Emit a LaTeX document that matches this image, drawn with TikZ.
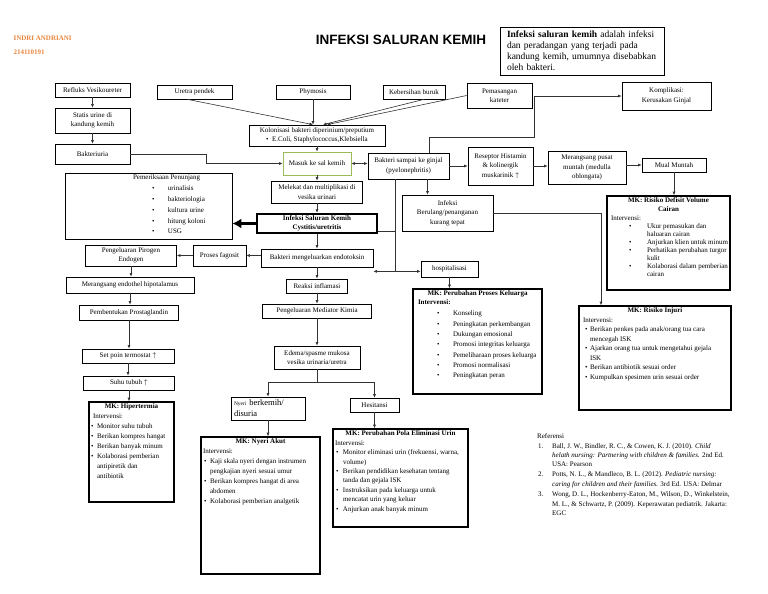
\documentclass[tikz,border=0pt]{standalone}
\usepackage{fontspec}
\setmainfont{Liberation Serif}
\newfontfamily\judulfont{Liberation Sans}
\usepackage{tikz}
\usetikzlibrary{arrows.meta,calc,positioning}
\definecolor{o}{HTML}{E8863C}
\definecolor{g}{HTML}{9BBB59}
\newcommand{\butir}[3]{\par\hangindent=#2\hangafter=1\noindent\makebox[#2][l]{\hspace{#1}\textbullet}#3}

\begin{document}
\begin{tikzpicture}[x=1pt,y=-1pt,>={Latex[length=3.5pt,width=3pt]},
  font=\fontsize{7}{9.5}\selectfont,
  box/.style={draw,line width=.7pt,align=center,inner sep=1pt},
  mk/.style={draw,line width=1.6pt,inner sep=2pt},
  arr/.style={->,line width=.6pt,draw=black!80},
  garis/.style={line width=.6pt,draw=black!80}]
  \useasboundingbox (0,0) rectangle (768,594);
  % judul
  \node[font=\fontsize{7}{9}\selectfont\bfseries,text=o,anchor=base west] (nama) at (10,41) {INDRI ANDRIANI};
  \node[font=\fontsize{7}{9}\selectfont\bfseries,text=o,anchor=base west] (nim) at (10,55) {214110191};
  \node[font=\judulfont\fontsize{13.5}{15}\selectfont\bfseries,anchor=base] (judul) at (401,45) {INFEKSI SALURAN KEMIH};
  \node[box,font=\fontsize{9.5}{11}\selectfont,align=left,text width=150pt,minimum width=164pt,minimum height=48pt,inner xsep=6pt] (definisi) at (582,51)
    {\textbf{Infeksi saluran kemih} adalah infeksi\\dan peradangan yang terjadi pada\\kandung kemih, umumnya disebabkan\\oleh bakteri.};
  % penyebab
  \node[box,minimum width=75pt,minimum height=14pt] (refluks) at (92.5,90) {Refluks Vesikoureter};
  \node[box,minimum width=75pt,minimum height=25pt] (statis) at (92.5,120.5) {Statis urine di\\kandung kemih};
  \node[box,minimum width=75pt,minimum height=20pt] (bakteriuria) at (92.5,154) {Bakteriuria};
  \node[box,minimum width=75pt,minimum height=14pt] (uretra) at (194.5,92) {Uretra pendek};
  \node[box,minimum width=74pt,minimum height=14pt] (phymosis) at (313,92) {Phymosis};
  \node[box,minimum width=62pt,minimum height=14pt] (kebersihan) at (414,92) {Kebersihan buruk};
  \node[box,minimum width=65pt,minimum height=25pt] (kateter) at (499.5,95.5) {Pemasangan\\kateter};
  \node[box,minimum width=136pt,minimum height=21pt] (kolonisasi) at (317,135.5) {Kolonisasi bakteri diperinium/preputium\\\textbullet\enspace E.Coli, Staphylococcus,Klebsiella};
  % jalur tengah
  \node[box,draw=g,minimum width=68pt,minimum height=23pt] (masuk) at (317,163.5) {Masuk ke sal kemih};
  \node[box,minimum width=91pt,minimum height=22pt] (melekat) at (317,192) {Melekat dan multiplikasi di\\vesika urinari};
  \node[box,line width=2.4pt,font=\fontsize{7}{9}\selectfont\bfseries,minimum width=120pt,minimum height=19pt] (isk) at (317,223.5) {Infeksi Saluran Kemih\\Cystitis/uretritis};
  \node[box,minimum width=112pt,minimum height=18pt] (endotoksin) at (317,258) {Bakteri mengeluarkan endotoksin};
  \node[box,minimum width=61pt,minimum height=14pt] (inflamasi) at (317,286) {Reaksi inflamasi};
  \node[box,minimum width=109pt,minimum height=14pt] (mediator) at (317,311) {Pengeluaran Mediator Kimia};
  \node[box,minimum width=86pt,minimum height=23pt] (edema) at (317,357.5) {Edema/spasme mukosa\\vesika urinaria/uretra};
  \node[box,align=left,font=\fontsize{8.5}{11}\selectfont,minimum width=74pt,minimum height=23pt,text width=68pt] (nyeri) at (268,408.5)
    {{\fontsize{5.5}{6}\selectfont Nyeri} berkemih/\\disuria};
  \node[box,minimum width=49pt,minimum height=14pt] (hesitansi) at (374.5,405) {Hesitansi};
  % ginjal
  \node[box,minimum width=81pt,minimum height=26pt] (ginjal) at (408.5,166) {Bakteri sampai ke ginjal\\(pyelonephritis)};
  \node[box,minimum width=65pt,minimum height=38pt] (reseptor) at (500.5,166) {Reseptor Histamin\\\& kolinergik\\muskarinik $\uparrow$};
  \node[box,minimum width=78pt,minimum height=33pt] (pusat) at (587,167.5) {Merangsang pusat\\muntah (medulla\\oblongata)};
  \node[box,minimum width=64pt,minimum height=14pt] (mual) at (674,165) {Mual Muntah};
  \node[box,minimum width=89pt,minimum height=28pt] (komplikasi) at (666.5,96) {Komplikasi:\\Kerusakan Ginjal};
  \node[box,minimum width=91pt,minimum height=36pt] (berulang) at (447.5,213) {Infeksi\\Berulang/penanganan\\kurang tepat};
  \node[box,minimum width=57pt,minimum height=16pt] (hospitalisasi) at (449.5,269) {hospitalisasi};
  % demam
  \node[box,minimum width=53pt,minimum height=21pt] (fagosit) at (219.5,255.5) {Proses fagosit};
  \node[box,minimum width=91pt,minimum height=21pt] (pirogen) at (131,255.5) {Pengeluaran Pirogen\\Endogen};
  \node[box,minimum width=128pt,minimum height=16pt] (endothel) at (130,285) {Merangsang endothel hipotalamus};
  \node[box,minimum width=99pt,minimum height=15pt] (prostaglandin) at (129,312.5) {Pembentukan Prostaglandin};
  \node[box,minimum width=92pt,minimum height=14pt] (setpoin) at (128,356) {Set poin termostat $\uparrow$};
  \node[box,minimum width=91pt,minimum height=14pt] (suhu) at (129,383) {Suhu tubuh $\uparrow$};
  \node[draw,line width=.7pt,inner sep=2pt,font=\fontsize{7}{10.8}\selectfont] (penunjang) at (148.5,206)
    {\parbox[t][62pt][t]{163pt}{\raggedright\noindent\makebox[163pt][l]{\hspace{66pt}Pemeriksaan Penunjang}\butir{85pt}{101pt}{urinalisis}\butir{85pt}{101pt}{bakteriologia}\butir{85pt}{101pt}{kultura urine}\butir{85pt}{101pt}{hitung koloni}\butir{85pt}{101pt}{USG}}};
  % masalah keperawatan
  \node[mk,font=\fontsize{7}{8}\selectfont] (defisit) at (668.5,243)
    {\parbox[t][90pt][t]{119pt}{\centering\textbf{MK: Risiko Defisit Volume\\[1pt]Cairan}\par\vspace{1pt}\raggedright\hspace*{2pt}Intervensi:\butir{20pt}{38pt}{Ukur pemasukan dan\newline haluaran cairan}\butir{20pt}{38pt}{Anjurkan klien untuk minum}\butir{20pt}{38pt}{Perhatikan perubahan turgor\newline kulit}\butir{20pt}{38pt}{Kolaborasi dalam pemberian\newline cairan}}};
  \node[mk,font=\fontsize{7}{10.3}\selectfont] (keluarga) at (477.5,341.5)
    {\parbox[t][101pt][t]{125pt}{\centering\textbf{MK: Perubahan Proses Keluarga}\par\vspace{-2pt}\raggedright\hspace*{3pt}\textbf{Intervensi:}\par\vspace{1.5pt}\butir{22pt}{38pt}{Konseling}\butir{22pt}{38pt}{Peningkatan perkembangan}\butir{22pt}{38pt}{Dukungan emosional}\butir{22pt}{38pt}{Promosi integritas keluarga}\butir{22pt}{38pt}{Pemeliharaan proses keluarga}\butir{22pt}{38pt}{Promosi normalisasi}\butir{22pt}{38pt}{Peningkatan peran}}};
  \node[mk,font=\fontsize{7}{9.5}\selectfont] (injuri) at (655,358)
    {\parbox[t][100pt][t]{148pt}{\centering\textbf{MK: Risiko Injuri}\par\raggedright\hspace*{2pt}Intervensi:\butir{4pt}{9pt}{Berikan penkes pada anak/orang tua cara\newline mencegah ISK}\butir{4pt}{9pt}{Ajarkan orang tua untuk mengetahui gejala\newline ISK}\butir{4pt}{9pt}{Berikan antibiotik sesuai order}\butir{4pt}{9pt}{Kumpulkan spesimen urin sesuai order}}};
  \node[mk,font=\fontsize{7}{10}\selectfont] (hipertermia) at (131.5,452)
    {\parbox[t][96pt][t]{81pt}{\centering\textbf{MK: Hipertermia}\par\raggedright\hspace*{2pt}Intervensi:\butir{0pt}{6pt}{Monitor suhu tubuh}\butir{0pt}{6pt}{Berikan kompres hangat}\butir{0pt}{6pt}{Berikan banyak minum}\butir{0pt}{6pt}{Kolaborasi pemberian\newline antipiretik dan\newline antibiotik}}};
  \node[mk,font=\fontsize{7}{10}\selectfont] (nyeriakut) at (260.5,505.5)
    {\parbox[t][133pt][t]{115pt}{\centering\textbf{MK: Nyeri Akut}\par\raggedright Intervensi:\butir{1pt}{7pt}{Kaji skala nyeri dengan instrumen\newline pengkajian nyeri sesuai umur}\butir{1pt}{7pt}{Berikan kompres hangat di area\newline abdomen}\butir{1pt}{7pt}{Kolaborasi pemberian analgetik}}};
  \node[mk,font=\fontsize{7}{9.4}\selectfont] (eliminasi) at (400.5,478)
    {\parbox[t][94pt][t]{131pt}{\centering\textbf{MK: Perubahan Pola Eliminasi Urin}\par\raggedright Intervensi:\butir{1pt}{8pt}{Monitor eliminasi urin (frekuensi, warna,\newline volume)}\butir{1pt}{8pt}{Berikan pendidikan kesehatan tentang\newline tanda dan gejala ISK}\butir{1pt}{8pt}{Instruksikan pada keluarga untuk\newline mencatat urin yang keluar}\butir{1pt}{8pt}{Anjurkan anak banyak minum}}};
  % referensi
  \node[anchor=north west,align=left,inner sep=0pt,font=\fontsize{7}{9.2}\selectfont] (referensi) at (537,433)
    {Referensi\\[1pt]
     \makebox[15pt][l]{\hspace{1pt}1.}Ball, J. W., Bindler, R. C., \& Cowen, K. J. (2010). \textit{Child}\\
     \hspace*{15pt}\textit{helath nursing: Partnering with children \& families.} 2nd Ed.\\
     \hspace*{15pt}USA: Pearson\\[1pt]
     \makebox[15pt][l]{\hspace{1pt}2.}Potts, N. L., \& Mandleco, B. L. (2012). \textit{Pediatric nursing:}\\
     \hspace*{15pt}\textit{caring for children and their families.} 3rd Ed. USA: Delmar\\[1.5pt]
     \makebox[15pt][l]{\hspace{1pt}3.}Wong, D. L., Hockenberry-Eaton, M., Wilson, D., Winkelstein,\\
     \hspace*{15pt}M. L., \& Schwartz, P. (2009). Keperawatan pediatrik. Jakarta:\\
     \hspace*{15pt}EGC};
  % panah
  \draw[arr] (refluks) -- (statis);
  \draw[arr] (statis) -- (bakteriuria);
  \draw[arr] (bakteriuria.east) -- ++(76,0) |- (masuk.west);
  \draw[arr] ([xshift=-7pt]uretra.south) -- ([xshift=-4pt]kolonisasi.north);
  \draw[arr] (phymosis.south) -- (phymosis.south |- kolonisasi.north);
  \draw[arr] ([xshift=10pt]kebersihan.south) -- ([xshift=6pt]kolonisasi.north);
  \draw[arr] (kateter.west) -- ([xshift=10pt]kolonisasi.north);
  \draw[arr] (kolonisasi) -- (masuk);
  \draw[<->,line width=.6pt,draw=black!80] (masuk.east) -- (masuk.east -| ginjal.west);
  \draw[arr] (masuk) -- (melekat);
  \draw[arr] (melekat) -- (isk);
  \draw[arr] (isk) -- (endotoksin);
  \draw[arr] (endotoksin) -- (inflamasi);
  \draw[arr] (inflamasi) -- (mediator);
  \draw[arr] (mediator) -- (edema);
  \draw[garis] (edema.south) -- ++(0,13) coordinate (cabang);
  \draw[arr] (cabang) -| (nyeri.north);
  \draw[arr] (cabang) -| (hesitansi.north);
  \draw[arr] (nyeri) -- (nyeri |- nyeriakut.north);
  \draw[arr] (hesitansi) -- (hesitansi |- eliminasi.north);
  \draw[-{Latex[length=9pt,width=10pt]},line width=2.4pt] (isk.west) -- (isk.west -| penunjang.east);
  \draw[arr] (fagosit.east -| endotoksin.west) -- (fagosit);
  \draw[arr] (fagosit) -- (pirogen);
  \draw[arr] (pirogen) -- (pirogen |- endothel.north);
  \draw[arr] (endothel) -- (endothel |- prostaglandin.north);
  \draw[arr] (prostaglandin) -- (prostaglandin |- setpoin.north);
  \draw[arr] (setpoin) -- (setpoin |- suhu.north);
  \draw[arr] (suhu) -- (suhu |- hipertermia.north);
  \draw[arr] (ginjal) -- (reseptor);
  \draw[arr] (reseptor.east) -- (reseptor.east -| pusat.west);
  \draw[arr] (mual.west -| pusat.east) -- (mual.west);
  \draw[arr] (mual) -- (mual |- defisit.north);
  \draw[arr] ([xshift=21pt]ginjal.north) -- ++(0,-15) -| ([xshift=-87pt]komplikasi.west) -- (komplikasi.west);
  \draw[arr] ([xshift=19pt]ginjal.south) -- ([xshift=19pt]ginjal.south |- berulang.north);
  \draw[arr] (berulang.east) -| ([xshift=-54pt]injuri.north);
  \draw[garis] ([xshift=-13.5pt]ginjal.south) -- ++(0,92) coordinate (simpul);
  \draw[garis] ([yshift=-8pt]isk.east) -- ([yshift=-8pt]isk.east -| simpul);
  \draw[arr] (simpul) -- (simpul -| hospitalisasi.west);
  \draw[arr] (simpul) -- (simpul -| endotoksin.east);
  \draw[arr] (hospitalisasi) -- (hospitalisasi |- keluarga.north);
\end{tikzpicture}
\end{document}
